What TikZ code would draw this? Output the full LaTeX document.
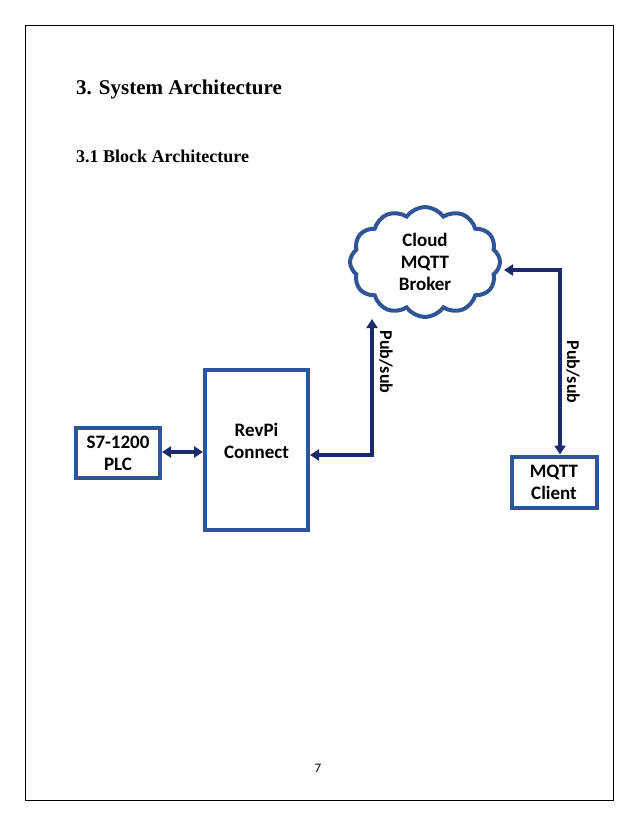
\documentclass[tikz,border=0pt]{standalone}
\usepackage{fontspec}
\setmainfont{Liberation Serif}
\newfontfamily\calib{Carlito}
\usetikzlibrary{shapes.symbols, arrows.meta}
\definecolor{boxblue}{HTML}{2F5597}
\definecolor{navy}{HTML}{1B2A6B}
\begin{document}
\begin{tikzpicture}[x=1pt, y=-1pt,
  blk/.style={draw=boxblue, line width=4pt, align=center, font=\calib\bfseries\fontsize{19}{22}\selectfont},
  link/.style={navy, line width=3.5pt, {Triangle[length=9pt,width=11pt]}-{Triangle[length=9pt,width=11pt]}},
  lbl/.style={font=\calib\bfseries\fontsize{18}{21}\selectfont, rotate=-90}]
  \useasboundingbox (0,0) rectangle (638,826);
  \draw[line width=0.6pt] (25,25) rectangle (613,800);
  \node[anchor=west, font=\bfseries\fontsize{21}{25}\selectfont, inner sep=0pt] (t1) at (76,89) {3. System Architecture};
  \node[anchor=west, font=\bfseries\fontsize{18}{21}\selectfont, inner sep=0pt] (t2) at (76,156) {3.1 Block Architecture};
  \node[blk, minimum width=84pt, minimum height=50pt, inner sep=0pt] (plc) at (118,453) {S7-1200\\PLC};
  \node[blk, minimum width=103pt, minimum height=160pt] (rev) at (256.5,450) {};
  \node[blk, draw=none] (revt) at (256.5,441) {RevPi\\Connect};
  \node[blk, cloud, cloud puffs=12, cloud puff arc=110, aspect=1.4, minimum width=150pt, minimum height=110pt, inner sep=0pt] (cl) at (425,262) {Cloud\\MQTT\\Broker};
  \node[blk, minimum width=85pt, minimum height=51pt, inner sep=0pt] (cli) at (554,482) {MQTT\\Client};
  \coordinate (c1) at (372,455);
  \coordinate (c2) at (560,270);
  \draw[link] (plc.east |- 0,452) -- (rev.west |- 0,452);
  \draw[link] (rev.east |- c1) -- (c1) -- (372,319);
  \draw[link] (504,270) -- (c2) -- (cli.north -| c2);
  \node[lbl] (p1) at (386,362) {Pub/sub};
  \node[lbl] (p2) at (573,372) {Pub/sub};
  \node[font=\calib\fontsize{13}{15}\selectfont] (pg) at (318,768) {7};
\end{tikzpicture}
\end{document}
